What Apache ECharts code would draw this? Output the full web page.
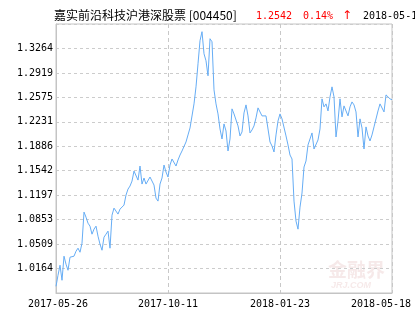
<!DOCTYPE html>
<html>
<head>
<meta charset="utf-8">
<script src="https://cdn.jsdelivr.net/npm/echarts@6/dist/echarts.min.js"></script>
<style>
html,body{margin:0;padding:0;background:#fff;}
#chart{width:415px;height:330px;}
</style>
</head>
<body>
<div id="chart"></div>
<script>
// ---- data ----
var fundName = '嘉实前沿科技沪港深股票 [004450]';
var lastNav = '1.2542';
var lastChange = '0.14%';
var changeArrow = '↑';
var lastDate = '2018-05-18';
var xTickLabels = ['2017-05-26', '2017-10-11', '2018-01-23', '2018-05-18'];
var yTickLabels = ['', '1.0164', '1.0509', '1.0853', '1.1197', '1.1542', '1.1886', '1.2231', '1.2575', '1.2919', '1.3264', ''];
var yBase = 0.98196;   // value at the bottom of the axis
var yStep = 0.034444;  // value between two grid lines
var navValues = [
  0.9914, 1.0069, 1.0211, 0.9999, 1.0338, 1.0225, 1.0140, 1.0324, 1.0309, 1.0338,
  1.0408, 1.0451, 1.0394, 1.0521, 1.0959, 1.0888, 1.0803, 1.0761, 1.0648, 1.0719,
  1.0761, 1.0620, 1.0507, 1.0422, 1.0606, 1.0648, 1.0691, 1.0451, 1.0916, 1.1015,
  1.0973, 1.0931, 1.1001, 1.1001, 1.1058, 1.1199, 1.1283, 1.1326, 1.1396, 1.1537,
  1.1523, 1.1410, 1.1608, 1.1354, 1.1439, 1.1354, 1.1368, 1.1453, 1.1425, 1.1340,
  1.1156, 1.1114, 1.1354, 1.1439, 1.1622, 1.1523, 1.1453, 1.1622, 1.1707, 1.1721,
  1.1608, 1.1693, 1.1763, 1.1820, 1.1848, 1.1947, 1.2046, 1.2144, 1.2116, 1.2483,
  1.2723, 1.3048, 1.3373, 1.3500, 1.3189, 1.3090, 1.2879, 1.3401, 1.3358, 1.2681,
  1.2483, 1.2342, 1.2130, 1.1989, 1.2201, 1.2102, 1.1820, 1.1989, 1.2413, 1.2342,
  1.2370, 1.2173, 1.2032, 1.2088, 1.2356, 1.2469, 1.2314, 1.2074, 1.2116, 1.2173,
  1.2286, 1.2427, 1.2413, 1.2314, 1.2342, 1.2314, 1.2300, 1.1947, 1.1890, 1.1806,
  1.2046, 1.2243, 1.2342, 1.2272, 1.2286, 1.2032, 1.1905, 1.1763, 1.1707, 1.1114,
  1.0832, 1.0719, 1.1029, 1.1227, 1.1594, 1.1679, 1.1905, 1.1933, 1.2074, 1.1848,
  1.1876, 1.1975, 1.2130, 1.2554, 1.2441, 1.2483, 1.2384, 1.2582, 1.2723, 1.2582,
  1.2017, 1.2243, 1.2554, 1.2300, 1.2455, 1.2469, 1.2314, 1.2441, 1.2511, 1.2469,
  1.2370, 1.2017, 1.2272, 1.2144, 1.1848, 1.2159, 1.2032, 1.1961, 1.2046, 1.2159,
  1.2173, 1.2384, 1.2483, 1.2469, 1.2370, 1.2610, 1.2582, 1.2554, 1.2542
];

// ---- chart ----
var n = navValues.length;
var labelStep = (n - 1) / (xTickLabels.length - 1);
var categories = navValues.map(function (v, i) {
  if (i === n - 1) return { value: String(i), textStyle: { padding: [0, 22, 0, 0] } };
  if (i === 0) return { value: String(i), textStyle: { padding: [0, 0, 0, 4] } };
  return String(i);
});
var plotData = navValues.map(function (v) { return (v - yBase) / yStep; });
var isTick = function (idx) { return idx % labelStep === 0; };
var mono = 'DejaVu Sans Mono';

var chart = echarts.init(document.getElementById('chart'), null, { renderer: 'canvas' });
chart.setOption({
  animation: false,
  backgroundColor: '#fff',
  grid: { left: 56, right: 23, top: 24, bottom: 37, show: true, borderColor: '#c4c4c4', borderWidth: 1, backgroundColor: 'transparent' },
  xAxis: {
    type: 'category',
    data: categories,
    boundaryGap: false,
    axisLine: { show: true, lineStyle: { color: '#c4c4c4' } },
    axisTick: { show: false },
    axisLabel: {
      interval: function (idx) { return isTick(idx); },
      formatter: function (val, idx) { return xTickLabels[Math.round(Number(val) / labelStep)]; },
      color: '#000', fontFamily: mono, fontSize: 10, margin: 6
    },
    splitLine: {
      show: true,
      interval: function (idx) { return isTick(idx); },
      lineStyle: { color: '#c8c8c8', type: [4, 3], width: 1 }
    }
  },
  yAxis: {
    type: 'value',
    min: 0, max: yTickLabels.length - 1, interval: 1,
    axisLine: { show: true, lineStyle: { color: '#c4c4c4' } },
    axisTick: { show: false },
    axisLabel: {
      formatter: function (val) { return yTickLabels[Math.round(val)] || ''; },
      color: '#000', fontFamily: mono, fontSize: 10, margin: 3
    },
    splitLine: { show: true, lineStyle: { color: '#cccccc', type: [3, 3], width: 1 } }
  },
  graphic: [
    { type: 'text', left: 54, top: 9, style: { text: fundName, fill: '#000', font: '12px "Noto Sans CJK SC"' } },
    { type: 'text', left: 256, top: 11, style: { text: lastNav, fill: '#ff0000', font: '10px "DejaVu Sans Mono"' } },
    { type: 'text', left: 303, top: 11, style: { text: lastChange, fill: '#ff0000', font: '10px "DejaVu Sans Mono"' } },
    { type: 'text', left: 342, top: 10, style: { text: changeArrow, fill: '#ff0000', font: '12px "DejaVu Sans"' } },
    { type: 'text', left: 363, top: 11, style: { text: lastDate, fill: '#000', font: '10px "DejaVu Sans Mono"' } },
    { type: 'text', left: 328, top: 260, z: -1, style: { text: '金融界', fill: 'rgba(200,120,120,0.16)', font: 'bold 19px "Noto Sans CJK SC"' } },
    { type: 'text', left: 331, top: 281, z: -1, style: { text: 'JRJ.COM', fill: 'rgba(200,120,120,0.16)', font: 'italic bold 9px "Liberation Sans"' } }
  ],
  series: [{
    type: 'line',
    data: plotData,
    showSymbol: false,
    smooth: false,
    lineStyle: { color: '#66adf5', width: 1 },
    itemStyle: { color: '#66adf5' }
  }]
});
</script>
</body>
</html>
